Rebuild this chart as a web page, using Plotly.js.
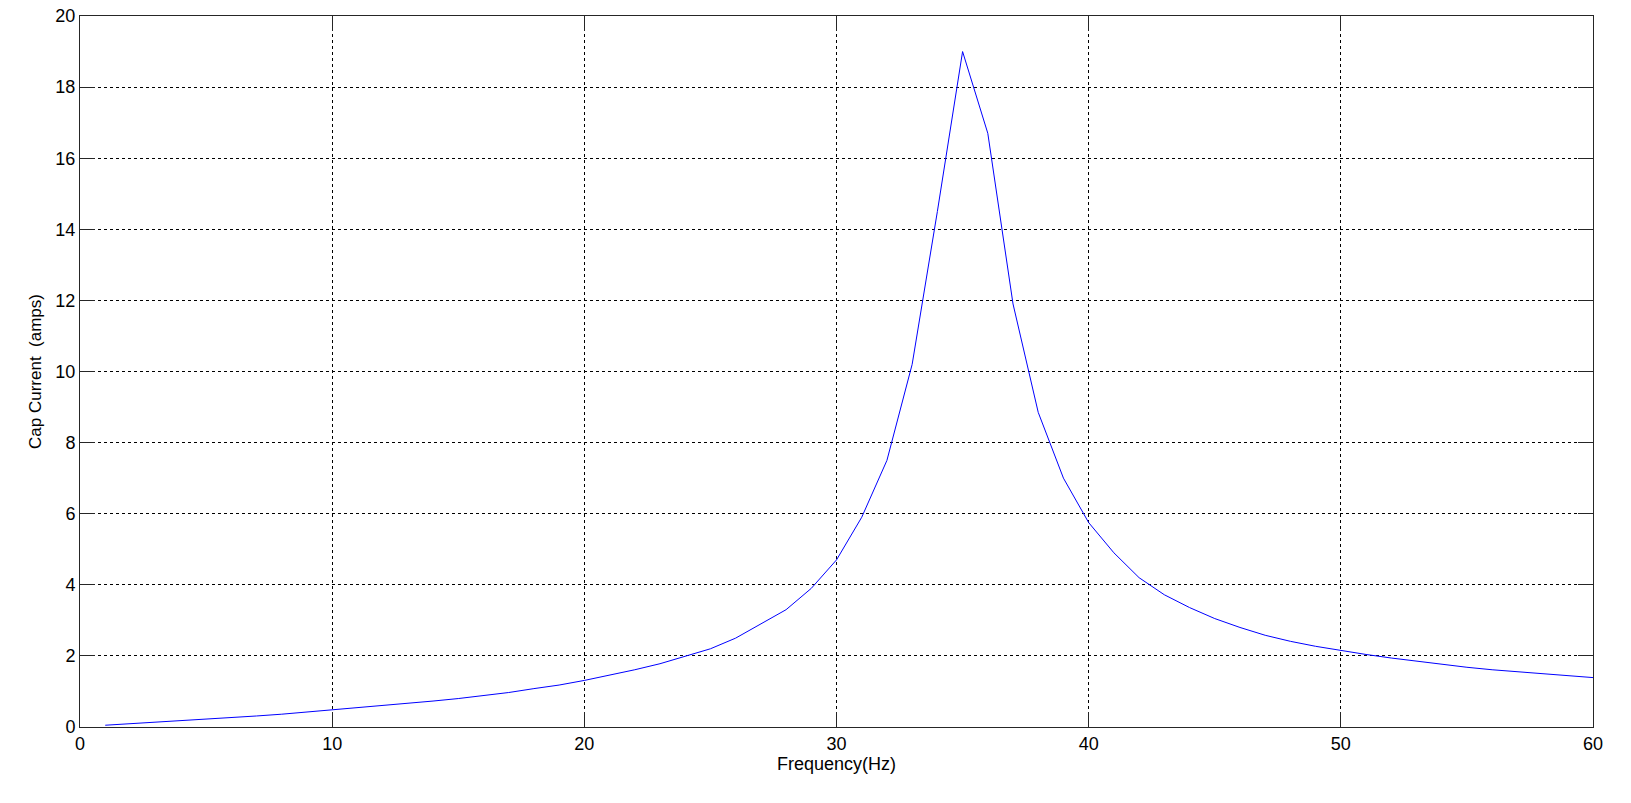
<!DOCTYPE html>
<html>
<head>
<meta charset="utf-8">
<script src="https://cdn.plot.ly/plotly-3.0.1.min.js"></script>
<style>html,body{margin:0;padding:0;background:#fff;}#chart{width:1631px;height:803px;}</style>
</head>
<body>
<div id="chart"></div>
<script>
// Frequency (Hz)
const frequency = [1,2,3,4,5,6,7,8,9,10,11,12,13,14,15,16,17,18,19,20,21,22,23,24,25,26,27,28,29,30,31,32,33,34,35,36,37,38,39,40,41,42,43,44,45,46,47,48,49,50,51,52,53,54,55,56,57,58,59,60];
// Capacitor current (amps)
const capCurrent = [0.05,0.09,0.13,0.18,0.22,0.27,0.31,0.36,0.42,0.48,0.53,0.60,0.67,0.73,0.80,0.88,0.97,1.08,1.18,1.31,1.45,1.61,1.78,1.99,2.20,2.50,2.90,3.30,3.90,4.70,5.90,7.50,10.2,14.5,19.0,16.7,11.9,8.85,7.0,5.75,4.9,4.2,3.72,3.36,3.05,2.80,2.58,2.41,2.27,2.15,2.04,1.94,1.85,1.76,1.68,1.61,1.55,1.49,1.44,1.39];
const xTicks = [0,10,20,30,40,50,60];
const yTicks = [0,2,4,6,8,10,12,14,16,18,20];

const trace = {
  x: frequency,
  y: capCurrent,
  type: 'scatter',
  mode: 'lines',
  line: {color: '#0000ff', width: 1},
  hoverinfo: 'x+y'
};

const axisCommon = {
  showline: true,
  linecolor: '#262626',
  linewidth: 1,
  mirror: 'ticks',
  ticks: 'inside',
  ticklen: 15,
  tickwidth: 1,
  tickcolor: '#262626',
  showgrid: true,
  gridcolor: '#000000',
  griddash: 'dot',
  gridwidth: 1,
  zeroline: false,
  tickfont: {family: 'Arial, "Liberation Sans", sans-serif', size: 18, color: '#000'},
  automargin: false
};

const layout = {
  width: 1631,
  height: 803,
  margin: {l: 80, r: 38, t: 16, b: 76},
  paper_bgcolor: '#ffffff',
  plot_bgcolor: '#ffffff',
  showlegend: false,
  xaxis: Object.assign({}, axisCommon, {
    range: [0, 60],
    tickmode: 'array',
    tickvals: xTicks,
    ticktext: xTicks.map(String),
    title: {text: 'Frequency(Hz)', font: {family: 'Arial, "Liberation Sans", sans-serif', size: 18, color: '#000'}, standoff: 3}
  }),
  yaxis: Object.assign({}, axisCommon, {
    range: [0, 20],
    tickmode: 'array',
    tickvals: yTicks,
    ticktext: yTicks.map(String),
    title: {text: 'Cap Current\u00a0 (amps)', font: {family: 'Arial, "Liberation Sans", sans-serif', size: 17, color: '#000'}, standoff: 9}
  })
};

Plotly.newPlot('chart', [trace], layout, {displayModeBar: false, staticPlot: true});
</script>
</body>
</html>
